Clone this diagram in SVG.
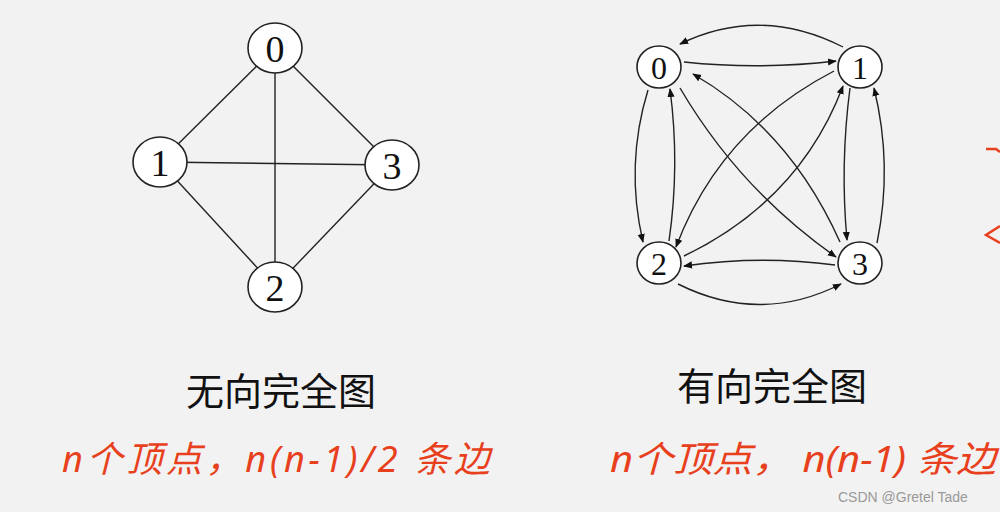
<svg xmlns="http://www.w3.org/2000/svg" width="1000" height="512" viewBox="0 0 1000 512">
<defs>
<marker id="a" viewBox="0 0 10 10" refX="9" refY="5" markerWidth="9" markerHeight="9" markerUnits="userSpaceOnUse" orient="auto"><path d="M0,1 L10,5 L0,9 z" fill="#111"/></marker>
<style>
.n ellipse{fill:#fff;stroke:#222;stroke-width:1.6}
.n text{font-family:"Liberation Serif",serif;text-anchor:middle;fill:#111}
.e line,.e path{stroke:#222;stroke-width:1.4;fill:none}
.d path{marker-end:url(#a)}
.cap{font-family:"Noto Sans CJK SC",sans-serif;font-size:38px;text-anchor:middle;fill:#111}
.red{font-family:"Noto Sans","Noto Sans CJK SC",sans-serif;font-size:36px;fill:#e8401c;font-style:italic}
</style>
</defs>
<rect width="1000" height="512" fill="#f2f2f2"/>
<g class="e" id="undirected-edges">
<line x1="275" y1="48" x2="160" y2="162"/><line x1="275" y1="48" x2="392" y2="165"/><line x1="275" y1="48" x2="275" y2="287"/>
<line x1="160" y1="162" x2="392" y2="165"/><line x1="160" y1="162" x2="275" y2="287"/><line x1="392" y1="165" x2="275" y2="287"/>
</g>
<g class="n" id="u0"><ellipse cx="275" cy="48" rx="27" ry="25"/><text x="275" y="62" font-size="38">0</text></g>
<g class="n" id="u1"><ellipse cx="160" cy="162" rx="27" ry="25"/><text x="160" y="176" font-size="38">1</text></g>
<g class="n" id="u3"><ellipse cx="392" cy="165" rx="27" ry="25"/><text x="392" y="179" font-size="38">3</text></g>
<g class="n" id="u2"><ellipse cx="275" cy="287" rx="27" ry="25"/><text x="275" y="301" font-size="38">2</text></g>
<g class="e d" id="directed-edges">
<path d="M843,47 Q760,5 680,44"/>
<path d="M684,62 Q760,70 836,61"/>
<path d="M840,242 Q790,130 693,74"/>
<path d="M680,88 Q740,190 836,257"/>
<path d="M834,71 Q720,130 676,247"/>
<path d="M684,256 Q800,200 843,86"/>
<path d="M648,90 Q625,165 643,242"/>
<path d="M669,241 Q680,165 670,89"/>
<path d="M850,88 Q840,165 847,240"/>
<path d="M877,243 Q893,165 874,88"/>
<path d="M835,265 Q760,255 684,266"/>
<path d="M678,284 Q760,325 841,284"/>
</g>
<g class="n" id="d0"><ellipse cx="659" cy="67" rx="22" ry="21"/><text x="659" y="79" font-size="32">0</text></g>
<g class="n" id="d1"><ellipse cx="860" cy="67" rx="22" ry="21"/><text x="860" y="79" font-size="32">1</text></g>
<g class="n" id="d2"><ellipse cx="659" cy="263" rx="22" ry="21"/><text x="659" y="275" font-size="32">2</text></g>
<g class="n" id="d3"><ellipse cx="860" cy="263" rx="22" ry="21"/><text x="860" y="275" font-size="32">3</text></g>
<text class="cap" x="281" y="405">无向完全图</text>
<text class="cap" x="772" y="400">有向完全图</text>
<text class="red" x="62" y="472" textLength="428" lengthAdjust="spacing">n个顶点，n(n-1)/2 条边</text>
<text class="red" x="610" y="472" textLength="386" lengthAdjust="spacingAndGlyphs">n个顶点，  n(n-1) 条边</text>
<path d="M986,149 L996,149 L1000,152 M1000,226 L986,235 L1000,243" stroke="#e8401c" stroke-width="2.5" fill="none"/>
<text x="838" y="502" font-family="Liberation Sans,sans-serif" font-size="14" fill="#999">CSDN @Gretel Tade</text>
</svg>
